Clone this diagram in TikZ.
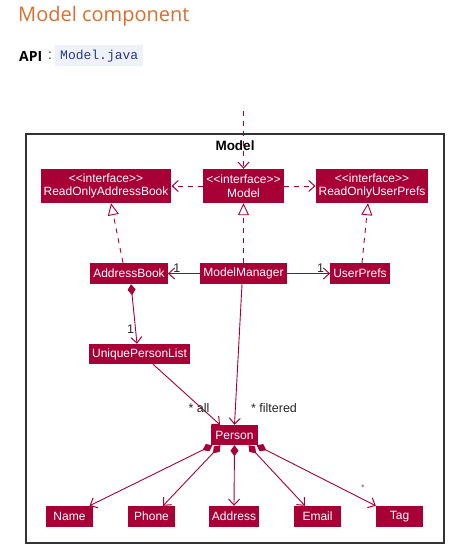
\documentclass[tikz,border=0pt]{standalone}
\usepackage{fontspec}
\setmainfont{Liberation Sans}
\newfontfamily\headfont{Open Sans}
\setmonofont{Liberation Mono}
\usetikzlibrary{arrows.meta, positioning}
\definecolor{umlred}{RGB}{168,0,54}
\definecolor{headorange}{RGB}{216,110,48}
\definecolor{codebg}{RGB}{238,241,248}
\definecolor{codeblue}{RGB}{40,56,140}
\tikzset{
  cls/.style = {fill=umlred, text=white, inner xsep=3pt, inner ysep=0pt,
    minimum height=21pt, font=\fontsize{12}{13.5}\selectfont},
  iface/.style = {cls, align=center, minimum height=34pt},
  leaf/.style = {cls, minimum width=47pt},
  dep/.style = {draw=umlred, line width=0.9pt, dash pattern=on 5pt off 5pt,
    -{Straight Barb[length=6pt,width=11pt,line width=1pt]}},
  real/.style = {draw=umlred, line width=0.9pt, dash pattern=on 5pt off 5pt,
    -{Triangle[open,length=12pt,width=11pt,fill=white,line width=0.9pt]}},
  assoc/.style = {draw=umlred, line width=0.9pt, -{Straight Barb[length=6pt,width=11pt,line width=1pt]}},
  comp/.style = {draw=umlred, line width=0.9pt,
    {Diamond[length=11pt,width=8pt]}-{Straight Barb[length=6pt,width=11pt,line width=1pt]}},
  mult/.style = {font=\fontsize{12.5}{14}\selectfont, text=black!85, inner sep=1pt}
}
\begin{document}
\begin{tikzpicture}[x=1pt,y=-1pt]
\useasboundingbox (0,0) rectangle (474,548);
% heading
\node[anchor=west, inner sep=0pt, text=headorange, font=\headfont\fontsize{20}{22}\selectfont] (head) at (18,16) {Model component};
\node[anchor=west, inner sep=0pt, font=\headfont\bfseries\fontsize{14}{16}\selectfont] (api) at (19,56) {API};
\node[anchor=west, inner sep=0pt, text=black!70, font=\headfont\fontsize{14}{16}\selectfont] (colon) at (48,56) {:};
\node[anchor=west, fill=codebg, text=codeblue, inner xsep=5pt, minimum height=21pt, font=\ttfamily\fontsize{13}{15}\selectfont] (code) at (55,56) {Model.java};
% package frame
\draw[black!80, line width=1.2pt] (26,134) rectangle (444,543);
\node[font=\bfseries\fontsize{13.5}{15}\selectfont] (pkg) at (235,146) {Model};
% interfaces
\node[iface, minimum width=128pt] (rab) at (106,186) {{<}{<}interface{>}{>}\\ReadOnlyAddressBook};
\node[iface, minimum width=77pt] (model) at (243.5,186) {{<}{<}interface{>}{>}\\Model};
\node[iface, minimum width=110pt] (rup) at (372,186) {{<}{<}interface{>}{>}\\ReadOnlyUserPrefs};
% classes
\node[cls, minimum width=76pt] (ab) at (129,273.5) {AddressBook};
\node[cls, minimum width=85pt] (mm) at (243.5,273.5) {ModelManager};
\node[cls, minimum width=56pt] (up) at (360,273.5) {UserPrefs};
\node[cls, minimum width=99pt, minimum height=20pt] (upl) at (139.5,354) {UniquePersonList};
\node[cls, minimum width=47pt, minimum height=20pt] (person) at (234.5,435) {Person};
\node[leaf] (name) at (69.5,516.5) {Name};
\node[leaf] (phone) at (151.5,516.5) {Phone};
\node[leaf] (address) at (234,516.5) {Address};
\node[leaf] (email) at (317.5,516.5) {Email};
\node[leaf] (tag) at (399.5,516.5) {Tag};
% connectors
\coordinate (outside) at (243.5,111);
\draw[dep] (outside) -- (model.north);
\draw[dep] (model.west) -- (rab.east);
\draw[dep] (model.east) -- (rup.west);
\draw[real] ([xshift=-6pt]ab.north) -- ([xshift=5pt]rab.south);
\draw[real] (mm.north) -- (model.south);
\draw[real] ([xshift=2pt]up.north) -- ([xshift=-4pt]rup.south);
\draw[assoc] (mm.west) -- node[mult, pos=0.72, above] {1} (ab.east);
\draw[assoc] (mm.east) -- node[mult, pos=0.78, above] {1} (up.west);
\draw[comp] ([xshift=2pt]ab.south) -- node[mult, pos=0.75, left] {1} ([xshift=-2.5pt]upl.north);
\draw[assoc] ([xshift=13.5pt]upl.south) -- ([xshift=-14.5pt]person.north);
\node[mult] (all) at (199,408) {* all};
\draw[assoc] ([xshift=-1.5pt]mm.south) -- (person.north);
\node[mult] (filt) at (274,408) {* filtered};
\draw[comp] ([xshift=-22pt]person.south) -- ([xshift=20pt]name.north);
\draw[comp] ([xshift=-14pt]person.south) -- ([xshift=11.5pt]phone.north);
\draw[comp] (person.south) -- (address.north);
\draw[comp] ([xshift=14pt]person.south) -- ([xshift=-12.5pt]email.north);
\draw[comp] ([xshift=22pt]person.south) -- (tag.north west);
\node[font=\fontsize{8}{9}\selectfont, text=black!70, inner sep=0pt] (star) at (363,488) {*};
\end{tikzpicture}
\end{document}
